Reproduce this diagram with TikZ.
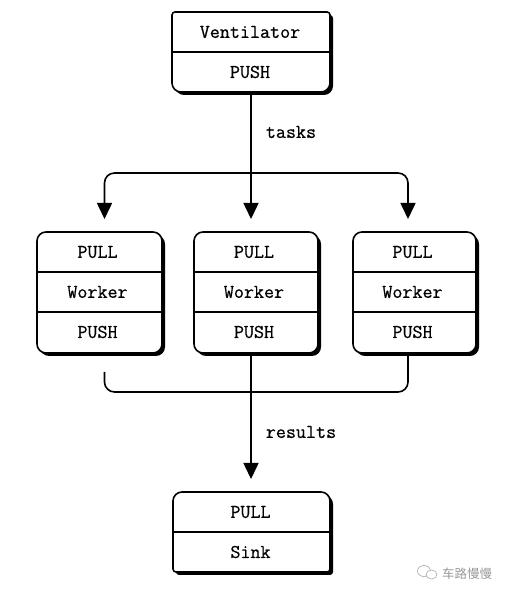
\documentclass[tikz,border=0pt]{standalone}
\usepackage{fontspec}
\newfontfamily\cjkfont{Noto Sans CJK SC}
\newfontfamily\boxtt[FakeBold=0.6]{Latin Modern Mono}
\usetikzlibrary{arrows.meta,fit}
\newcommand\rpath[6]{(#1,#4-#5) arc[start angle=180,end angle=90,radius=#5pt] -- (#3-#5,#4) arc[start angle=90,end angle=0,radius=#5pt] -- (#3,#2+#6) arc[start angle=0,end angle=-90,radius=#6pt] -- (#1+#6,#2) arc[start angle=270,end angle=180,radius=#6pt] -- cycle}
\newcommand\drawbox[7]{%
  \fill[black, shift={(3pt,-3pt)}] \rpath{#2}{#3}{#4}{#5}{#6}{#7};
  \draw[boxline, fill=white] \rpath{#2}{#3}{#4}{#5}{#6}{#7};
  \node[fit={(#2,#3) (#4,#5)}, inner sep=0pt, outer sep=0pt] (#1) {};
}
\tikzset{
  boxline/.style={line width=1.6pt, line join=round},
  divline/.style={line width=1.4pt},
  lbl/.style={font=\boxtt\fontsize{19.5}{21}\selectfont, inner sep=0pt, anchor=center},
  conn/.style={line width=1.6pt},
  arr/.style={conn, -{Triangle[width=15pt,length=16pt]}, shorten >=13pt},
}
\begin{document}
\begin{tikzpicture}[x=1pt,y=1pt]
\useasboundingbox[fill=white] (0,0) rectangle (505,596);

% boxes
\drawbox{vent}{172}{504}{330}{584}{3}{9}
\drawbox{w1}{37}{243}{162}{364}{9}{9}
\drawbox{w2}{194}{243}{318}{364}{9}{9}
\drawbox{w3}{353}{243}{476}{364}{9}{9}
\drawbox{sink}{173}{24}{330}{104}{9}{3}

% dividers
\draw[divline] (vent.west |- 0,544) -- (vent.east |- 0,544);
\foreach \b in {w1,w2,w3}{
  \draw[divline] (\b.west |- 0,324) -- (\b.east |- 0,324);
  \draw[divline] (\b.west |- 0,284) -- (\b.east |- 0,284);
}
\draw[divline] (sink.west |- 0,64) -- (sink.east |- 0,64);

% texts
\node[lbl] (ventA) at ([xshift=-1pt]vent.center |- 0,564) {Ventilator};
\node[lbl] (ventB) at ([xshift=-1pt]vent.center |- 0,524) {PUSH};
\foreach \b in {w1,w2,w3}{
  \node[lbl] (\b a) at ([xshift=-2pt]\b.center |- 0,344) {PULL};
  \node[lbl] (\b b) at ([xshift=-2pt]\b.center |- 0,304) {Worker};
  \node[lbl] (\b c) at ([xshift=-2pt]\b.center |- 0,264) {PUSH};
}
\node[lbl] (sinkA) at ([xshift=-1pt]sink.center |- 0,84) {PULL};
\node[lbl] (sinkB) at ([xshift=-1pt]sink.center |- 0,44) {Sink};

% connectors
\coordinate (split) at (vent.south |- 0,423);
\draw[arr] (vent.south) -- (vent.south |- w2.north);
\draw[arr, rounded corners=10pt] (split) -| ([xshift=5pt]w1.north);
\draw[arr, rounded corners=10pt] (split) -| ([xshift=-6.5pt]w3.north);

\coordinate (lfree) at ([xshift=5pt]w1.south |- 0,224);
\coordinate (bus) at (vent.south |- 0,204);
\draw[conn, rounded corners=10pt] (lfree) |- (bus) -| ([xshift=-6.5pt]w3.south);
\draw[arr] ([xshift=-5pt]w2.south) -- ([xshift=-5pt]w2.south |- sink.north);

\node[lbl] (tasks) at (291,464) {tasks};
\node[lbl] (results) at (301,164) {results};

% watermark
\draw[gray!70, line width=0.6pt] (424,25) ellipse [x radius=6.5pt, y radius=5.5pt];
\draw[gray!70, line width=0.6pt, fill=white] (431.5,21.5) ellipse [x radius=5.5pt, y radius=4.5pt];
\node[font=\cjkfont\fontsize{12.5}{14}\selectfont, text=gray!80, inner sep=0pt] (wm) at (467,22) {车路慢慢};
\end{tikzpicture}
\end{document}
